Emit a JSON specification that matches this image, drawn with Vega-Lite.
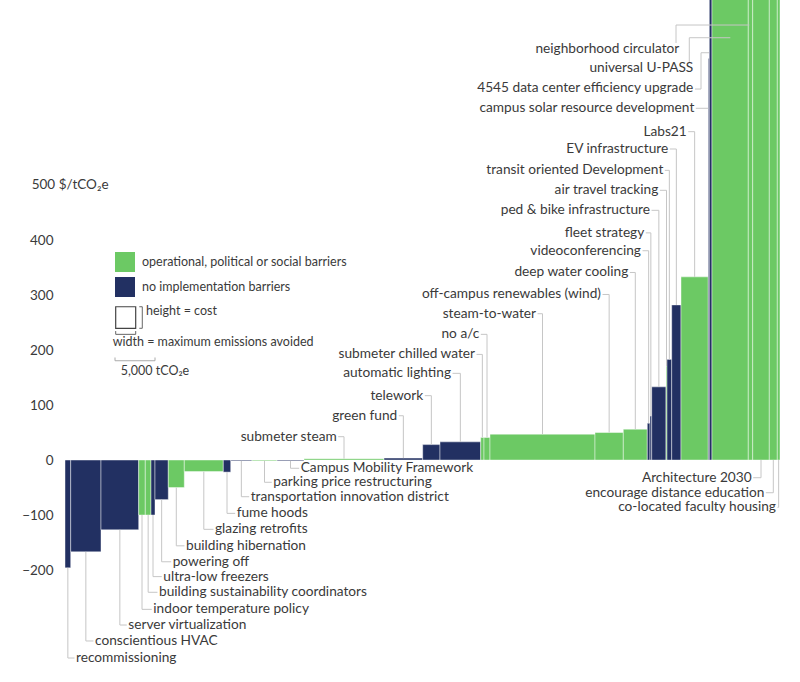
{
  "$schema": "https://vega.github.io/schema/vega-lite/v6.json",
  "autosize": "none",
  "width": 743,
  "height": 682,
  "padding": {"left": 57, "top": 0, "right": 0, "bottom": 0},
  "background": "white",
  "config": {
    "view": {"stroke": null},
    "font": "Lato",
    "text": {"font": "Lato", "fontSize": 13.7, "color": "#3a3a3a"},
    "legend": {"labelFont": "Lato"},
    "axisX": {"disable": true}
  },
  "datasets": {
    "bars": [
      {"n": "recommissioning", "x0": 0, "x1": 712, "c": -196, "t": "n"},
      {"n": "conscientious HVAC", "x0": 712, "x1": 4500, "c": -167, "t": "n"},
      {"n": "server virtualization", "x0": 4500, "x1": 9212, "c": -127, "t": "n"},
      {"n": "indoor temperature policy", "x0": 9212, "x1": 10037, "c": -100, "t": "g"},
      {"n": "building sustainability coordinators", "x0": 10037, "x1": 10750, "c": -100, "t": "g"},
      {"n": "ultra-low freezers", "x0": 10750, "x1": 11250, "c": -100, "t": "n"},
      {"n": "powering off", "x0": 11250, "x1": 12912, "c": -72, "t": "n"},
      {"n": "building hibernation", "x0": 12912, "x1": 14912, "c": -50, "t": "g"},
      {"n": "glazing retrofits", "x0": 14912, "x1": 19788, "c": -21, "t": "g"},
      {"n": "fume hoods", "x0": 19788, "x1": 20712, "c": -22, "t": "n"},
      {"n": "transportation innovation district", "x0": 20712, "x1": 23375, "c": -1.5, "t": "n"},
      {"n": "parking price restructuring", "x0": 23375, "x1": 26500, "c": -1.5, "t": "g"},
      {"n": "Campus Mobility Framework", "x0": 26500, "x1": 29875, "c": -1.5, "t": "n"},
      {"n": "submeter steam", "x0": 29875, "x1": 39875, "c": 2.5, "t": "g"},
      {"n": "green fund", "x0": 39875, "x1": 44712, "c": 3.5, "t": "n"},
      {"n": "telework", "x0": 44712, "x1": 46875, "c": 28, "t": "n"},
      {"n": "automatic lighting", "x0": 46875, "x1": 51962, "c": 33, "t": "n"},
      {"n": "submeter chilled water", "x0": 51962, "x1": 52375, "c": 41, "t": "g"},
      {"n": "no a/c", "x0": 52375, "x1": 53125, "c": 41, "t": "g"},
      {"n": "steam-to-water", "x0": 53125, "x1": 66250, "c": 47, "t": "g"},
      {"n": "off-campus renewables (wind)", "x0": 66250, "x1": 69788, "c": 50, "t": "g"},
      {"n": "deep water cooling", "x0": 69788, "x1": 72788, "c": 56, "t": "g"},
      {"n": "videoconferencing", "x0": 72788, "x1": 73125, "c": 67, "t": "n"},
      {"n": "fleet strategy", "x0": 73125, "x1": 73338, "c": 80, "t": "n"},
      {"n": "ped & bike infrastructure", "x0": 73338, "x1": 75125, "c": 133, "t": "n"},
      {"n": "air travel tracking", "x0": 75125, "x1": 75250, "c": 171, "t": "g"},
      {"n": "transit oriented Development", "x0": 75250, "x1": 75838, "c": 183, "t": "n"},
      {"n": "EV infrastructure", "x0": 75838, "x1": 77000, "c": 282, "t": "n"},
      {"n": "Labs21", "x0": 77000, "x1": 80412, "c": 333, "t": "g"},
      {"n": "campus solar resource development", "x0": 80412, "x1": 80538, "c": 730, "t": "n"},
      {"n": "4545 data center efficiency upgrade", "x0": 80538, "x1": 80875, "c": 1000, "t": "n"},
      {"n": "universal U-PASS", "x0": 80875, "x1": 85412, "c": 1100, "t": "g"},
      {"n": "neighborhood circulator", "x0": 85412, "x1": 85962, "c": 1200, "t": "g"},
      {"n": "Architecture 2030", "x0": 85962, "x1": 88038, "c": 1300, "t": "g"},
      {"n": "encourage distance education", "x0": 88038, "x1": 89038, "c": 1400, "t": "g"},
      {"n": "co-located faculty housing", "x0": 89038, "x1": 89375, "c": 1500, "t": "g"}
    ],
    "labels": [
      {"n": "recommissioning", "al": "l", "tx": 1375, "ty": -360, "hx": 1185, "vx": 356, "vy": -196},
      {"n": "conscientious HVAC", "al": "l", "tx": 3750, "ty": -329, "hx": 3560, "vx": 2606, "vy": -167},
      {"n": "server virtualization", "al": "l", "tx": 7912, "ty": -300, "hx": 7722, "vx": 6856, "vy": -127},
      {"n": "indoor temperature policy", "al": "l", "tx": 11037, "ty": -271.5, "hx": 10847, "vx": 9625, "vy": -100},
      {"n": "building sustainability coordinators", "al": "l", "tx": 11750, "ty": -240.5, "hx": 11560, "vx": 10394, "vy": -100},
      {"n": "ultra-low freezers", "al": "l", "tx": 12287, "ty": -212, "hx": 12097, "vx": 11000, "vy": -100},
      {"n": "powering off", "al": "l", "tx": 13462, "ty": -185, "hx": 13272, "vx": 12081, "vy": -72},
      {"n": "building hibernation", "al": "l", "tx": 15125, "ty": -156, "hx": 14935, "vx": 13912, "vy": -50},
      {"n": "glazing retrofits", "al": "l", "tx": 18750, "ty": -126, "hx": 18560, "vx": 17350, "vy": -21},
      {"n": "fume hoods", "al": "l", "tx": 21462, "ty": -97, "hx": 21272, "vx": 20250, "vy": -22},
      {"n": "transportation innovation district", "al": "l", "tx": 23212, "ty": -66.7, "hx": 23022, "vx": 22044, "vy": -1.5},
      {"n": "parking price restructuring", "al": "l", "tx": 26037, "ty": -40.5, "hx": 25847, "vx": 24938, "vy": -1.5},
      {"n": "Campus Mobility Framework", "al": "l", "tx": 29462, "ty": -15, "hx": 29272, "vx": 28188, "vy": -1.5},
      {"n": "submeter steam", "al": "r", "tx": 33962, "ty": 42.4, "hx": 34152, "vx": 34875, "vy": 2.5},
      {"n": "green fund", "al": "r", "tx": 41537, "ty": 80.5, "hx": 41727, "vx": 42294, "vy": 3.5},
      {"n": "telework", "al": "r", "tx": 44787, "ty": 117, "hx": 44977, "vx": 45794, "vy": 28},
      {"n": "automatic lighting", "al": "r", "tx": 48250, "ty": 157.6, "hx": 48440, "vx": 49419, "vy": 33},
      {"n": "submeter chilled water", "al": "r", "tx": 51250, "ty": 192, "hx": 51440, "vx": 52169, "vy": 41},
      {"n": "no a/c", "al": "r", "tx": 51787, "ty": 228.5, "hx": 51977, "vx": 52750, "vy": 41},
      {"n": "steam-to-water", "al": "r", "tx": 58875, "ty": 266, "hx": 59065, "vx": 59688, "vy": 47},
      {"n": "off-campus renewables (wind)", "al": "r", "tx": 67000, "ty": 301, "hx": 67190, "vx": 68019, "vy": 50},
      {"n": "deep water cooling", "al": "r", "tx": 70412, "ty": 341, "hx": 70602, "vx": 71288, "vy": 56},
      {"n": "videoconferencing", "al": "r", "tx": 72000, "ty": 380.5, "hx": 72190, "vx": 72956, "vy": 67},
      {"n": "fleet strategy", "al": "r", "tx": 72412, "ty": 413, "hx": 72602, "vx": 73231, "vy": 80},
      {"n": "ped & bike infrastructure", "al": "r", "tx": 73125, "ty": 454, "hx": 73315, "vx": 74231, "vy": 133},
      {"n": "air travel tracking", "al": "r", "tx": 74162, "ty": 490.4, "hx": 74352, "vx": 75188, "vy": 171},
      {"n": "transit oriented Development", "al": "r", "tx": 74787, "ty": 526.7, "hx": 74977, "vx": 75544, "vy": 183},
      {"n": "EV infrastructure", "al": "r", "tx": 75412, "ty": 565.5, "hx": 75602, "vx": 76419, "vy": 282},
      {"n": "Labs21", "al": "r", "tx": 77712, "ty": 597, "hx": 77902, "vx": 78706, "vy": 333},
      {"n": "campus solar resource development", "al": "r", "tx": 78662, "ty": 639.5, "hx": 78852, "vx": 80412, "vy": 639.5},
      {"n": "4545 data center efficiency upgrade", "al": "r", "tx": 78537, "ty": 675.8},
      {"n": "universal U-PASS", "al": "r", "tx": 78537, "ty": 712},
      {"n": "neighborhood circulator", "al": "r", "tx": 76787, "ty": 747.3},
      {"n": "Architecture 2030", "al": "r", "tx": 85837, "ty": -32.2, "hx": 86027, "vx": 87000, "vy": 0},
      {"n": "encourage distance education", "al": "r", "tx": 87412, "ty": -59.5, "hx": 87602, "vx": 88538, "vy": 0},
      {"n": "co-located faculty housing", "al": "r", "tx": 88875, "ty": -86, "hx": 89065, "vx": 89206, "vy": 0}
    ],
    "extra": [
      {"x": 78750, "y": 674.5, "x2": 79500, "y2": 674.5},
      {"x": 79500, "y": 674.5, "x2": 79500, "y2": 740.5},
      {"x": 79500, "y": 740.5, "x2": 80500, "y2": 740.5},
      {"x": 78037, "y": 723.6, "x2": 78037, "y2": 767.8},
      {"x": 78037, "y": 767.8, "x2": 83162, "y2": 767.8},
      {"x": 76375, "y": 758.2, "x2": 76375, "y2": 790.9},
      {"x": 76375, "y": 790.9, "x2": 85537, "y2": 790.9}
    ],
    "legsegs": [
      {"g": "box", "x": 9662, "y": 278.7, "x2": 9662, "y2": 239.5},
      {"g": "box", "x": 9287, "y": 278.7, "x2": 9662, "y2": 278.7},
      {"g": "box", "x": 9287, "y": 239.5, "x2": 9662, "y2": 239.5},
      {"g": "box", "x": 6337, "y": 228.5, "x2": 8837, "y2": 228.5},
      {"g": "box", "x": 6337, "y": 228.5, "x2": 6337, "y2": 234.5},
      {"g": "box", "x": 8837, "y": 228.5, "x2": 8837, "y2": 234.5},
      {"g": "scale", "x": 6250, "y": 180.5, "x2": 11250, "y2": 180.5},
      {"g": "scale", "x": 6250, "y": 180.5, "x2": 6250, "y2": 186.4},
      {"g": "scale", "x": 11250, "y": 180.5, "x2": 11250, "y2": 186.4}
    ],
    "legbox": [{"x": 6337, "x2": 8837, "y": 278.7, "y2": 239.5}],
    "legtext": [
      {"s": "height = cost", "x": 10125, "y": 270.9, "f": 12.5},
      {"s": "width = maximum emissions avoided", "x": 5962, "y": 215.1, "f": 12.5},
      {"s": "5,000 tCO₂e", "x": 6962, "y": 162.4, "f": 12.5},
      {"s": "500 $/tCO₂e", "x": -4162, "y": 500, "f": 13.5}
    ]
  },
  "layer": [
    {
      "data": {"name": "bars"},
      "mark": {"type": "rect", "clip": true, "stroke": "white", "strokeWidth": 0.8, "strokeOpacity": 0.55},
      "encoding": {
        "x": {"field": "x0", "type": "quantitative", "scale": {"domain": [-1000, 91875], "nice": false, "zero": false}},
        "x2": {"field": "x1"},
        "y": {"field": "c", "type": "quantitative", "scale": {"domain": [-403.6, 836.4], "nice": false, "zero": false},
              "axis": {"title": null, "values": [-200, -100, 0, 100, 200, 300, 400], "ticks": false, "domain": false, "grid": false, "labelFontSize": 13.5, "labelColor": "#3a3a3a", "labelPadding": 4, "labelFont": "Lato"}},
        "y2": {"datum": 0},
        "color": {"field": "t", "type": "nominal",
                  "scale": {"domain": ["g", "n"], "range": ["#6cc964", "#223062"]},
                  "legend": {"orient": "none", "legendX": 58, "legendY": 252, "title": null, "padding": 0,
                             "symbolType": "square", "symbolSize": 400, "symbolStrokeWidth": 0, "rowPadding": 5,
                             "labelFontSize": 12.5, "labelColor": "#3a3a3a", "labelOffset": 7, "labelLimit": 0,
                             "labelExpr": "datum.label == 'g' ? 'operational, political or social barriers' : 'no implementation barriers'"}}
      }
    },
    {
      "data": {"name": "labels"},
      "transform": [{"filter": "isValid(datum.vx)"}],
      "mark": {"type": "rule", "color": "#c6c6c6", "strokeWidth": 1},
      "encoding": {
        "x": {"field": "vx", "type": "quantitative"},
        "y": {"field": "vy", "type": "quantitative"},
        "y2": {"field": "ty"}
      }
    },
    {
      "data": {"name": "labels"},
      "transform": [{"filter": "isValid(datum.vx)"}],
      "mark": {"type": "rule", "color": "#c6c6c6", "strokeWidth": 1},
      "encoding": {
        "x": {"field": "hx", "type": "quantitative"},
        "x2": {"field": "vx"},
        "y": {"field": "ty", "type": "quantitative"}
      }
    },
    {
      "data": {"name": "extra"},
      "mark": {"type": "rule", "color": "#c6c6c6", "strokeWidth": 1},
      "encoding": {
        "x": {"field": "x", "type": "quantitative"},
        "x2": {"field": "x2"},
        "y": {"field": "y", "type": "quantitative"},
        "y2": {"field": "y2"}
      }
    },
    {
      "data": {"name": "labels"},
      "transform": [{"filter": "datum.al == 'l'"}],
      "mark": {"type": "text", "align": "left", "baseline": "middle"},
      "encoding": {
        "x": {"field": "tx", "type": "quantitative"},
        "y": {"field": "ty", "type": "quantitative"},
        "text": {"field": "n"}
      }
    },
    {
      "data": {"name": "labels"},
      "transform": [{"filter": "datum.al == 'r'"}],
      "mark": {"type": "text", "align": "right", "baseline": "middle"},
      "encoding": {
        "x": {"field": "tx", "type": "quantitative"},
        "y": {"field": "ty", "type": "quantitative"},
        "text": {"field": "n"}
      }
    },
    {
      "data": {"name": "legbox"},
      "mark": {"type": "rect", "fill": "white", "stroke": "#444444", "strokeWidth": 1.2},
      "encoding": {
        "x": {"field": "x", "type": "quantitative"},
        "x2": {"field": "x2"},
        "y": {"field": "y", "type": "quantitative"},
        "y2": {"field": "y2"}
      }
    },
    {
      "data": {"name": "legsegs"},
      "transform": [{"filter": "datum.g == 'box'"}],
      "mark": {"type": "rule", "color": "#666666", "strokeWidth": 1},
      "encoding": {
        "x": {"field": "x", "type": "quantitative"},
        "x2": {"field": "x2"},
        "y": {"field": "y", "type": "quantitative"},
        "y2": {"field": "y2"}
      }
    },
    {
      "data": {"name": "legsegs"},
      "transform": [{"filter": "datum.g == 'scale'"}],
      "mark": {"type": "rule", "color": "#aaaaaa", "strokeWidth": 1},
      "encoding": {
        "x": {"field": "x", "type": "quantitative"},
        "x2": {"field": "x2"},
        "y": {"field": "y", "type": "quantitative"},
        "y2": {"field": "y2"}
      }
    },
    {
      "data": {"name": "legtext"},
      "mark": {"type": "text", "align": "left", "baseline": "middle"},
      "encoding": {
        "x": {"field": "x", "type": "quantitative"},
        "y": {"field": "y", "type": "quantitative"},
        "text": {"field": "s"},
        "size": {"field": "f", "type": "quantitative", "scale": null}
      }
    }
  ]
}
